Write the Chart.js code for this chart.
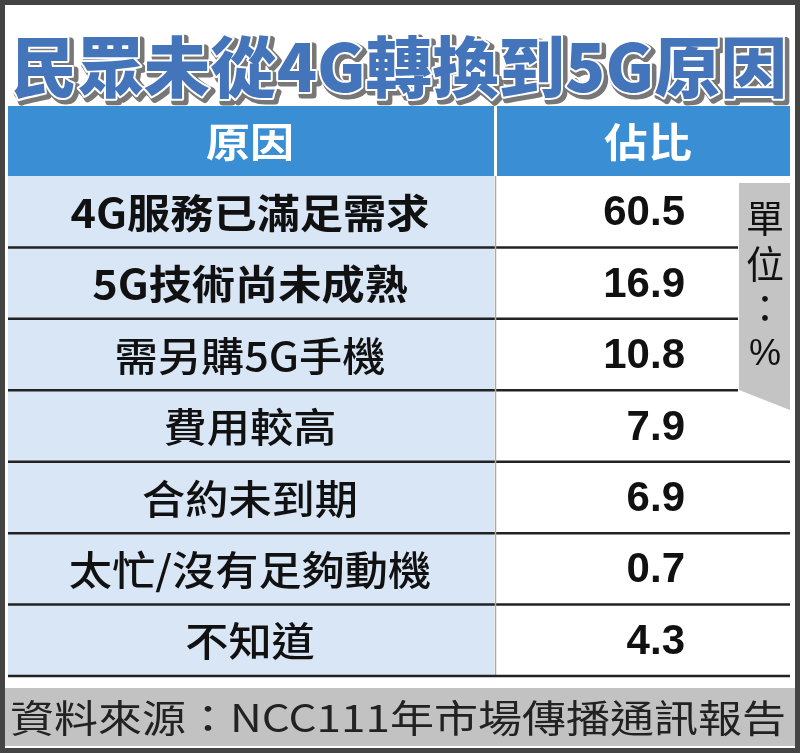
<!DOCTYPE html>
<html><head><meta charset="utf-8">
<script src="https://cdn.jsdelivr.net/npm/chart.js@4"></script>
<style>html,body{margin:0;padding:0;background:#fff}#w{width:800px;height:753px}</style>
</head><body><div id="w"><canvas id="c"></canvas></div>
<script>
const title = "民眾未從4G轉換到5G原因";
const headers = ["原因", "佔比"];
const reasons = ["4G服務已滿足需求","5G技術尚未成熟","需另購5G手機","費用較高","合約未到期","太忙/沒有足夠動機","不知道"];
const shares = [60.5, 16.9, 10.8, 7.9, 6.9, 0.7, 4.3];
const unitText = ["單","位","：","%"];
const source = "資料來源：NCC111年市場傳播通訊報告";
const CJK = '"Noto Sans CJK TC","Noto Sans CJK SC",sans-serif';

function sText(ctx, t, x, y, sx, align, mode) {
  ctx.save();
  ctx.translate(x, y); ctx.scale(sx, 1);
  ctx.textAlign = align;
  if (mode === 'stroke') ctx.strokeText(t, 0, 0); else ctx.fillText(t, 0, 0);
  ctx.restore();
}

const tablePlugin = {
  id: 'table',
  beforeDraw(chart) {
    const ctx = chart.ctx, y = chart.scales.y, ca = chart.chartArea;
    const W = chart.width, H = chart.height;
    const L = ca.left, R = ca.right, D = 494;
    ctx.save();
    ctx.fillStyle = '#fff'; ctx.fillRect(0,0,W,H);
    ctx.strokeStyle = '#444'; ctx.lineWidth = 5; ctx.strokeRect(2.5,2.5,W-5,H-5);
    // title
    ctx.font = '900 66px ' + CJK; ctx.textBaseline = 'middle';
    const tw = ctx.measureText(title).width, tsx = 776 / tw;
    const g = ctx.createLinearGradient(0, 32, 0, 100);
    g.addColorStop(0, '#4474ba'); g.addColorStop(1, '#1b3a78');
    ctx.lineJoin = 'round';
    ctx.strokeStyle = '#777'; ctx.lineWidth = 7; sText(ctx, title, 402, 70, tsx, 'center', 'stroke');
    ctx.strokeStyle = '#fff'; ctx.lineWidth = 4; sText(ctx, title, 399, 67, tsx, 'center', 'stroke');
    ctx.fillStyle = g; sText(ctx, title, 399, 67, tsx, 'center');
    // header
    const hTop = 106, hBot = ca.top;
    ctx.fillStyle = '#3a8ed4';
    ctx.fillRect(L, hTop, D - L, hBot - hTop);
    ctx.fillRect(D + 3, hTop, R - D - 3, hBot - hTop);
    ctx.fillStyle = '#fff'; ctx.font = '700 40px ' + CJK;
    sText(ctx, headers[0], 250, 142, 1.1, 'center');
    sText(ctx, headers[1], 648, 142, 1.1, 'center');
    // rows
    const n = reasons.length;
    const step = (ca.bottom - ca.top) / n;
    ctx.fillStyle = '#d9e6f5'; ctx.fillRect(L, ca.top, D - L, ca.bottom - ca.top);
    reasons.forEach((r, i) => {
      const cy = y.getPixelForValue(i);
      ctx.fillStyle = '#111';
      ctx.font = (i < 2 ? '700 ' : '500 ') + '40px ' + CJK;
      sText(ctx, r, 250, cy + 1, 1.08, 'center');
      ctx.font = 'bold 42px "Liberation Sans",Arial,sans-serif';
      sText(ctx, shares[i].toFixed(1), 685, cy + 2, 1.0, 'right');
      if (i < n - 1) {
        const ly = cy + step / 2;
        ctx.strokeStyle = '#222'; ctx.lineWidth = 2.5;
        ctx.beginPath(); ctx.moveTo(L, ly); ctx.lineTo(i < 3 ? 738 : R, ly); ctx.stroke();
      }
    });
    ctx.strokeStyle = '#aaa'; ctx.lineWidth = 1.5;
    ctx.beginPath(); ctx.moveTo(D + 1.5, ca.top); ctx.lineTo(D + 1.5, ca.bottom); ctx.stroke();
    ctx.strokeStyle = '#222'; ctx.lineWidth = 2.5;
    ctx.beginPath(); ctx.moveTo(L, ca.bottom); ctx.lineTo(R, ca.bottom); ctx.stroke();
    // unit box
    ctx.fillStyle = '#c4c4c4';
    ctx.beginPath(); ctx.moveTo(739, 183); ctx.lineTo(R, 183); ctx.lineTo(R, 410); ctx.lineTo(739, 390); ctx.closePath(); ctx.fill();
    ctx.fillStyle = '#111'; ctx.textAlign = 'center';
    ctx.font = '400 38px ' + CJK;
    ctx.fillText(unitText[0], 765, 218);
    ctx.fillText(unitText[1], 765, 264);
    ctx.fillText(unitText[2], 765, 308);
    ctx.font = '400 36px "Liberation Sans",Arial,sans-serif';
    ctx.fillText(unitText[3], 765, 355);
    // source
    ctx.fillStyle = '#c2c2c2'; ctx.fillRect(5, 688, W - 10, 58);
    ctx.fillStyle = '#222'; ctx.font = '400 38px ' + CJK;
    const sw = ctx.measureText(source).width;
    sText(ctx, source, 10, 718, 776 / sw, 'left');
    ctx.restore();
  }
};

new Chart(document.getElementById('c'), {
  type: 'bar',
  data: { labels: reasons, datasets: [{ data: shares, backgroundColor: 'rgba(0,0,0,0)', borderWidth: 0 }] },
  options: {
    indexAxis: 'y', responsive: true, maintainAspectRatio: false, animation: false,
    layout: { padding: { left: 8, right: 10, top: 176, bottom: 77 } },
    plugins: { legend: { display: false }, tooltip: { enabled: false } },
    scales: { x: { display: false, min: 0, max: 100 }, y: { display: false, offset: true, grid: { offset: true } } }
  },
  plugins: [tablePlugin]
});
</script></body></html>
